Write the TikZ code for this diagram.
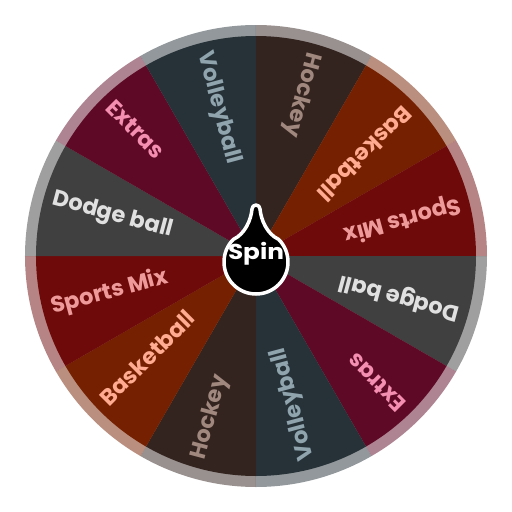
\documentclass[tikz,border=0pt]{standalone}
\usepackage{fontspec}
\setmainfont{Poppins}
\newfontfamily\spinfont{Poppins}[FakeStretch=1.15]
\usepackage{tikz}

% segment colours (face) and label colours
\definecolor{hockeyBg}{HTML}{33241F}
\definecolor{hockeyFg}{HTML}{A1887F}
\definecolor{basketBg}{HTML}{752000}
\definecolor{basketFg}{HTML}{FFAB91}
\definecolor{sportsBg}{HTML}{6E0A0A}
\definecolor{sportsFg}{HTML}{EF9A9A}
\definecolor{dodgeBg}{HTML}{404040}
\definecolor{dodgeFg}{HTML}{E0E0E0}
\definecolor{extrasBg}{HTML}{5E0A26}
\definecolor{extrasFg}{HTML}{F48FB1}
\definecolor{volleyBg}{HTML}{263238}
\definecolor{volleyFg}{HTML}{90A4AE}

\begin{document}
\begin{tikzpicture}[x=1pt, y=1pt,
    rim/.style={fill=#1, fill opacity=0.5},
    face/.style={fill=#1},
    lbl/.style={anchor=west, inner sep=0pt, text=#1, text height=1.5ex, text depth=0.3ex,
        font=\fontsize{22.5}{22.5}\selectfont\bfseries}]
    \useasboundingbox (-256,-256) rectangle (256,256);

    % ---------------- Rim: half-transparent outer ring ----------------
    \fill[rim=hockeyBg]  (0,0) -- (90:231pt)  arc[start angle=90,  end angle=60,  radius=231pt] -- cycle;
    \fill[rim=basketBg]  (0,0) -- (60:231pt)  arc[start angle=60,  end angle=30,  radius=231pt] -- cycle;
    \fill[rim=sportsBg]  (0,0) -- (30:231pt)  arc[start angle=30,  end angle=0,   radius=231pt] -- cycle;
    \fill[rim=dodgeBg]   (0,0) -- (0:231pt)   arc[start angle=0,   end angle=-30, radius=231pt] -- cycle;
    \fill[rim=extrasBg]  (0,0) -- (-30:231pt) arc[start angle=-30, end angle=-60, radius=231pt] -- cycle;
    \fill[rim=volleyBg]  (0,0) -- (-60:231pt) arc[start angle=-60, end angle=-90, radius=231pt] -- cycle;
    \fill[rim=hockeyBg]  (0,0) -- (-90:231pt) arc[start angle=-90, end angle=-120, radius=231pt] -- cycle;
    \fill[rim=basketBg]  (0,0) -- (-120:231pt) arc[start angle=-120, end angle=-150, radius=231pt] -- cycle;
    \fill[rim=sportsBg]  (0,0) -- (210:231pt) arc[start angle=210, end angle=180, radius=231pt] -- cycle;
    \fill[rim=dodgeBg]   (0,0) -- (180:231pt) arc[start angle=180, end angle=150, radius=231pt] -- cycle;
    \fill[rim=extrasBg]  (0,0) -- (150:231pt) arc[start angle=150, end angle=120, radius=231pt] -- cycle;
    \fill[rim=volleyBg]  (0,0) -- (120:231pt) arc[start angle=120, end angle=90,  radius=231pt] -- cycle;

    % ---------------- Faces of the twelve segments ----------------
    \fill[face=hockeyBg] (0,0) -- (90:220pt)  arc[start angle=90,  end angle=60,  radius=220pt] -- cycle;
    \fill[face=basketBg] (0,0) -- (60:220pt)  arc[start angle=60,  end angle=30,  radius=220pt] -- cycle;
    \fill[face=sportsBg] (0,0) -- (30:220pt)  arc[start angle=30,  end angle=0,   radius=220pt] -- cycle;
    \fill[face=dodgeBg]  (0,0) -- (0:220pt)   arc[start angle=0,   end angle=-30, radius=220pt] -- cycle;
    \fill[face=extrasBg] (0,0) -- (-30:220pt) arc[start angle=-30, end angle=-60, radius=220pt] -- cycle;
    \fill[face=volleyBg] (0,0) -- (-60:220pt) arc[start angle=-60, end angle=-90, radius=220pt] -- cycle;
    \fill[face=hockeyBg] (0,0) -- (-90:220pt) arc[start angle=-90, end angle=-120, radius=220pt] -- cycle;
    \fill[face=basketBg] (0,0) -- (-120:220pt) arc[start angle=-120, end angle=-150, radius=220pt] -- cycle;
    \fill[face=sportsBg] (0,0) -- (210:220pt) arc[start angle=210, end angle=180, radius=220pt] -- cycle;
    \fill[face=dodgeBg]  (0,0) -- (180:220pt) arc[start angle=180, end angle=150, radius=220pt] -- cycle;
    \fill[face=extrasBg] (0,0) -- (150:220pt) arc[start angle=150, end angle=120, radius=220pt] -- cycle;
    \fill[face=volleyBg] (0,0) -- (120:220pt) arc[start angle=120, end angle=90,  radius=220pt] -- cycle;

    % ---------------- Labels, read from rim to centre ----------------
    \node[lbl=hockeyFg, rotate=255] (hockeyTop)   at (75:211pt)   {Hockey};
    \node[lbl=basketFg, rotate=225] (basketTop)   at (45:211pt)   {Basketball};
    \node[lbl=sportsFg, rotate=195] (sportsRight) at (15:211pt)   {Sports Mix};
    \node[lbl=dodgeFg,  rotate=165] (dodgeRight)  at (-15:211pt)  {Dodge ball};
    \node[lbl=extrasFg, rotate=135] (extrasRight) at (-45:211pt)  {Extras};
    \node[lbl=volleyFg, rotate=105] (volleyBot)   at (-75:211pt)  {Volleyball};
    \node[lbl=hockeyFg, rotate=75]  (hockeyBot)   at (-105:211pt) {Hockey};
    \node[lbl=basketFg, rotate=45]  (basketBot)   at (-135:211pt) {Basketball};
    \node[lbl=sportsFg, rotate=15]  (sportsLeft)  at (195:211pt)  {Sports Mix};
    \node[lbl=dodgeFg,  rotate=-15] (dodgeLeft)   at (165:211pt)  {Dodge ball};
    \node[lbl=extrasFg, rotate=-45] (extrasLeft)  at (135:211pt)  {Extras};
    \node[lbl=volleyFg, rotate=-75] (volleyTop)   at (105:211pt)  {Volleyball};

    % ---------------- Spin button with pointer ----------------
    \begin{scope}[shift={(0,-6)}]
        \filldraw[fill=black, draw=white, line width=3.5pt, line join=round]
            (135:32pt) .. controls (-11,28) and (-5,42) .. (-4,53)
            arc[start angle=180, end angle=0, radius=4pt]
            .. controls (5,42) and (11,28) .. (45:32pt)
            arc[start angle=45, end angle=-225, radius=32pt] -- cycle;
        \node[anchor=base, inner sep=0pt, text=white, font=\spinfont\fontsize{21.5}{21.5}\selectfont\bfseries] (spin) at (0,2.5) {Spin};
    \end{scope}
\end{tikzpicture}
\end{document}
